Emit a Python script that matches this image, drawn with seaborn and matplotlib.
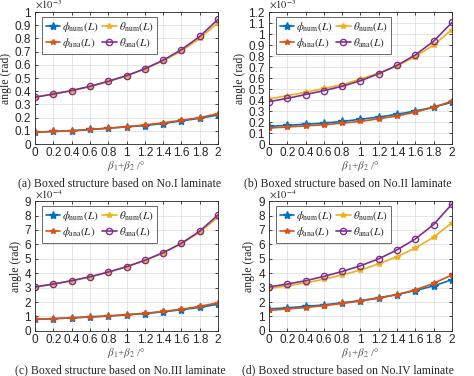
import numpy as np
import seaborn as sns
import matplotlib
matplotlib.use("Agg")
import matplotlib.pyplot as plt

x = [0, 0.2, 0.4, 0.6, 0.8, 1.0, 1.2, 1.4, 1.6, 1.8, 2.0]

# (a) No.I laminate, x10^-3
a_phi_num = [0.09, 0.095, 0.10, 0.11, 0.12, 0.13, 0.14, 0.155, 0.175, 0.195, 0.22]
a_phi_ana = [0.09, 0.095, 0.10, 0.11, 0.12, 0.13, 0.145, 0.16, 0.18, 0.20, 0.23]
a_theta_num = [0.355, 0.38, 0.405, 0.435, 0.475, 0.515, 0.57, 0.63, 0.705, 0.80, 0.92]
a_theta_ana = [0.355, 0.378, 0.405, 0.437, 0.475, 0.518, 0.57, 0.635, 0.715, 0.815, 0.945]

# (b) No.II laminate, x10^-3
b_phi_num = [0.16, 0.17, 0.18, 0.19, 0.205, 0.225, 0.245, 0.27, 0.30, 0.335, 0.38]
b_phi_ana = [0.145, 0.155, 0.165, 0.175, 0.19, 0.205, 0.23, 0.255, 0.29, 0.335, 0.39]
b_theta_num = [0.41, 0.44, 0.47, 0.505, 0.54, 0.59, 0.645, 0.71, 0.795, 0.90, 1.04]
b_theta_ana = [0.385, 0.415, 0.45, 0.485, 0.525, 0.575, 0.64, 0.715, 0.81, 0.935, 1.105]

# (c) No.III laminate, x10^-4
c_phi_num = [0.8, 0.85, 0.9, 0.97, 1.03, 1.12, 1.2, 1.32, 1.47, 1.63, 1.85]
c_phi_ana = [0.8, 0.85, 0.9, 0.97, 1.03, 1.12, 1.22, 1.35, 1.5, 1.7, 1.95]
c_theta_num = [3.05, 3.25, 3.48, 3.75, 4.08, 4.45, 4.88, 5.42, 6.05, 6.85, 7.9]
c_theta_ana = [3.05, 3.25, 3.48, 3.75, 4.08, 4.45, 4.9, 5.42, 6.08, 6.92, 8.05]

# (d) No.IV laminate, x10^-4
d_phi_num = [1.52, 1.6, 1.7, 1.8, 1.95, 2.1, 2.3, 2.52, 2.8, 3.12, 3.55]
d_phi_ana = [1.42, 1.52, 1.62, 1.75, 1.9, 2.07, 2.27, 2.52, 2.85, 3.3, 3.88]
d_theta_num = [2.95, 3.12, 3.33, 3.58, 3.88, 4.22, 4.65, 5.15, 5.75, 6.5, 7.5]
d_theta_ana = [3.05, 3.25, 3.48, 3.78, 4.12, 4.52, 5.0, 5.62, 6.38, 7.38, 8.8]

labels = [r"$\phi_{\mathrm{num}}(L)$", r"$\phi_{\mathrm{ana}}(L)$",
          r"$\theta_{\mathrm{num}}(L)$", r"$\theta_{\mathrm{ana}}(L)$"]
colors = ["#0072BD", "#D95319", "#EDB120", "#7E2F8E"]
markers = ["*", "*", "*", "o"]
msizes = [6, 4, 4, 4.5]

captions = ["(a) Boxed structure based on No.I laminate",
            "(b) Boxed structure based on No.II laminate",
            "(c) Boxed structure based on No.III laminate",
            "(d) Boxed structure based on No.IV laminate"]
exponents = [r"$\times10^{-3}$", r"$\times10^{-3}$", r"$\times10^{-4}$", r"$\times10^{-4}$"]
ylims = [(0, 1.0, 0.1), (0, 1.2, 0.1), (0, 9, 1), (0, 9, 1)]

panels = [
    [a_phi_num, a_phi_ana, a_theta_num, a_theta_ana],
    [b_phi_num, b_phi_ana, b_theta_num, b_theta_ana],
    [c_phi_num, c_phi_ana, c_theta_num, c_theta_ana],
    [d_phi_num, d_phi_ana, d_theta_num, d_theta_ana],
]

sns.set_style("ticks")
plt.rcParams["font.family"] = ["Liberation Sans", "DejaVu Sans"]
plt.rcParams["mathtext.fontset"] = "stix"

fig = plt.figure(figsize=(4.74, 3.76), dpi=100)
rects = [[0.074, 0.617, 0.386, 0.351],
         [0.5675, 0.617, 0.386, 0.351],
         [0.074, 0.12, 0.386, 0.345],
         [0.5675, 0.12, 0.386, 0.345]]
cap_pos = [(0.253, 0.512), (0.733, 0.512), (0.253, 0.016), (0.733, 0.016)]

def fmt(v, pos):
    return "%g" % round(v, 3)

for i, series in enumerate(panels):
    ax = fig.add_axes(rects[i])
    for j, vals in enumerate(series):
        sns.lineplot(x=x, y=vals, ax=ax, color=colors[j], marker=markers[j],
                     markersize=msizes[j], markeredgecolor=colors[j],
                     markerfacecolor=colors[j] if j != 3 else "none",
                     markeredgewidth=1.0, linewidth=1.2, label=labels[j])
    lo, hi, step = ylims[i]
    ax.set_xlim(0, 2)
    ax.set_ylim(lo, hi)
    ax.set_xticks(np.arange(0, 2.01, 0.2))
    ax.set_yticks(np.arange(lo, hi + step / 2, step))
    ax.xaxis.set_major_formatter(plt.FuncFormatter(fmt))
    ax.yaxis.set_major_formatter(plt.FuncFormatter(fmt))
    ax.tick_params(direction="in", length=2.5, width=0.6, labelsize=8.5,
                   top=True, right=True, pad=3, colors="#262626")
    ax.tick_params(axis="x", pad=2)
    ax.grid(True, color="#dcdcdc", linewidth=0.5)
    for sp in ax.spines.values():
        sp.set_linewidth(0.6)
        sp.set_color("#262626")
    ax.set_ylabel("angle (rad)", family="Liberation Serif", fontsize=8.5, labelpad=2)
    ax.set_xlabel(r"$\beta_1$+$\beta_2$ /°", family="Liberation Serif",
                  fontsize=8, color="#555555", labelpad=0)
    ax.text(0.0, 1.005, exponents[i], transform=ax.transAxes, fontsize=7.5,
            ha="left", va="bottom", color="#262626")
    leg = ax.legend(loc="upper left", ncol=2, fontsize=8, handlelength=1.3,
                    handletextpad=0.2, columnspacing=0.3, borderpad=0.3,
                    labelspacing=0.2, frameon=True, fancybox=False,
                    borderaxespad=0, bbox_to_anchor=(0.04, 0.965))
    leg.get_frame().set_edgecolor("#262626")
    leg.get_frame().set_linewidth(0.6)
    fig.text(cap_pos[i][0], cap_pos[i][1], captions[i], ha="center", va="center",
             family="Liberation Serif", fontsize=8.5)

fig.savefig("out.png", dpi=100)
